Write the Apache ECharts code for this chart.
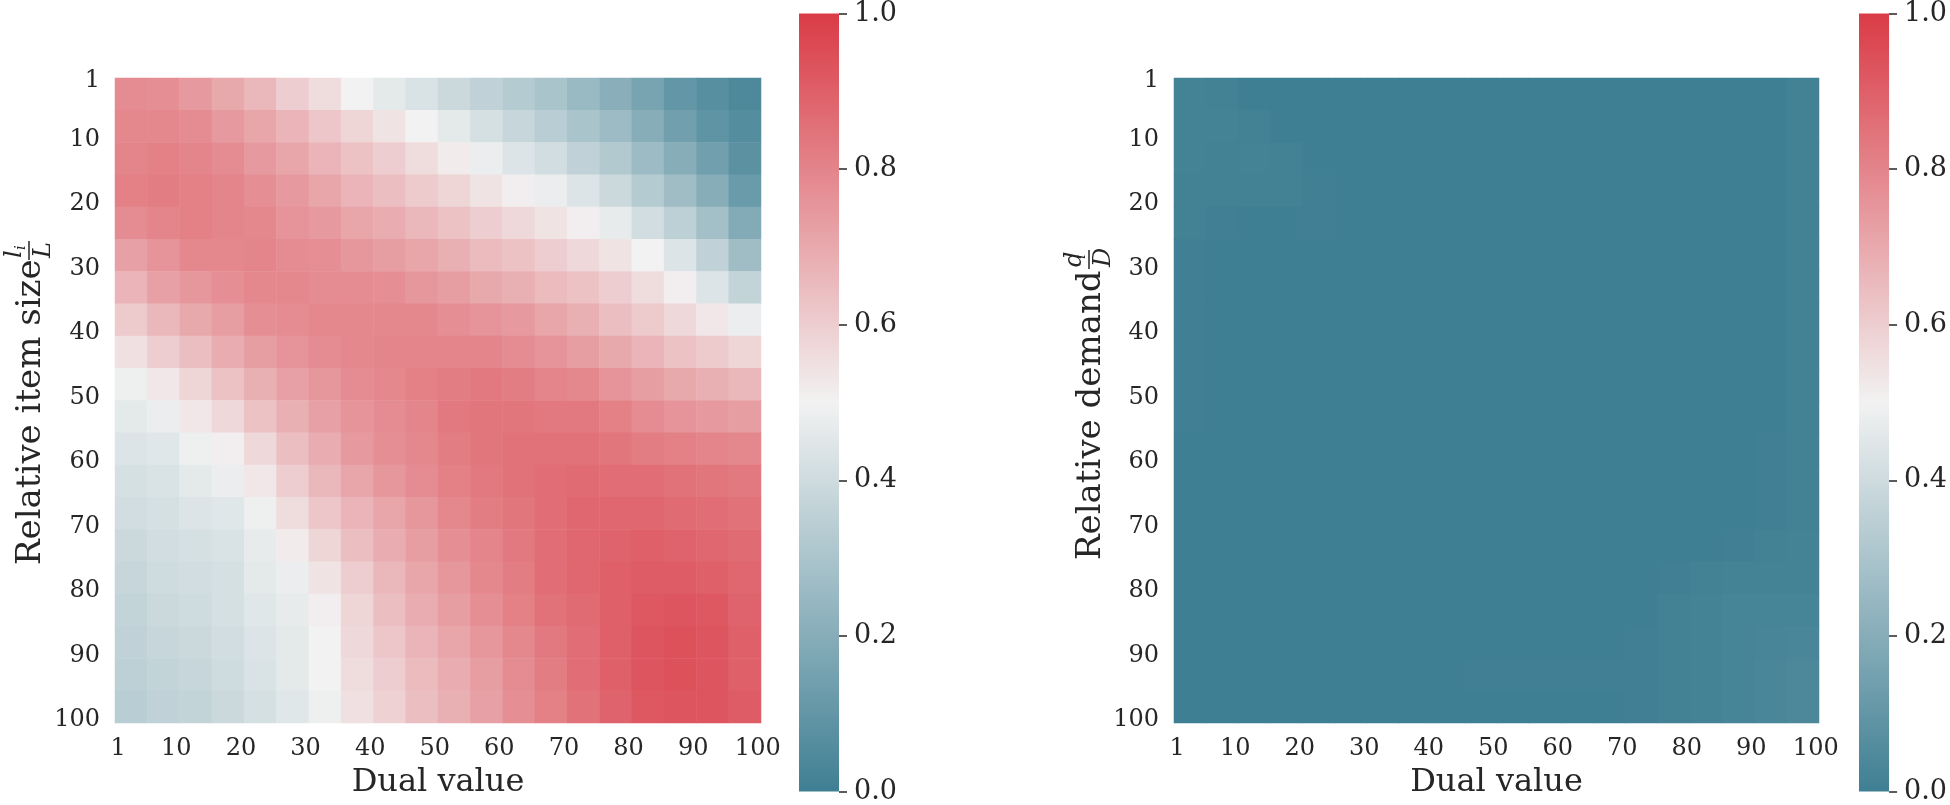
<!DOCTYPE html>
<html>
<head>
<meta charset="utf-8">
<title>Dual value heatmaps</title>
<script src="https://cdn.jsdelivr.net/npm/echarts@6/dist/echarts.min.js"></script>
<style>
  html, body { margin: 0; padding: 0; background: #fff; }
  #chart { width: 1950px; height: 805px; }
</style>
</head>
<body>
<div id="chart"></div>
<script>
// axis categories (1..100) and the labels that are actually shown
const categories = Array.from({ length: 100 }, (_, i) => String(i + 1));
const tickLabels = ['1', '10', '20', '30', '40', '50', '60', '70', '80', '90', '100'];
// cells are read in blocks of 5x5 items
const blockCats = Array.from({ length: 20 }, (_, i) => String(i));
const cbTicks = ['0.0', '0.2', '0.4', '0.6', '0.8', '1.0'];

// left panel: relative item size (rows) vs dual value (cols)
const itemSizeGrid = [
  [.78,.77,.74,.70,.66,.60,.56,.50,.46,.43,.39,.36,.33,.30,.25,.21,.16,.10,.07,.04],
  [.79,.79,.78,.74,.71,.67,.62,.58,.54,.50,.46,.42,.38,.34,.30,.26,.20,.14,.09,.06],
  [.80,.81,.80,.78,.74,.71,.67,.63,.60,.56,.52,.48,.44,.41,.36,.32,.26,.20,.14,.08],
  [.81,.82,.81,.80,.77,.74,.71,.67,.64,.61,.58,.54,.51,.48,.44,.39,.33,.27,.20,.12],
  [.78,.80,.81,.80,.79,.76,.74,.71,.69,.66,.63,.60,.57,.54,.51,.47,.41,.35,.28,.19],
  [.72,.76,.79,.79,.80,.78,.77,.75,.73,.71,.68,.65,.63,.60,.57,.54,.50,.44,.36,.27],
  [.67,.72,.75,.77,.79,.79,.78,.78,.77,.75,.73,.70,.68,.65,.63,.60,.56,.51,.44,.37],
  [.61,.66,.70,.73,.77,.78,.79,.79,.79,.79,.77,.76,.74,.71,.68,.64,.61,.57,.53,.48],
  [.55,.60,.64,.69,.73,.76,.78,.79,.80,.80,.80,.80,.78,.76,.73,.70,.67,.63,.61,.58],
  [.49,.53,.58,.63,.68,.72,.75,.78,.79,.81,.82,.83,.82,.80,.79,.76,.73,.70,.68,.66],
  [.46,.48,.53,.57,.63,.68,.72,.76,.78,.80,.83,.84,.84,.83,.83,.81,.78,.76,.74,.73],
  [.44,.45,.49,.51,.57,.64,.69,.74,.77,.79,.82,.84,.85,.85,.85,.84,.82,.81,.80,.79],
  [.42,.43,.46,.48,.53,.60,.66,.71,.75,.78,.81,.83,.85,.86,.87,.86,.86,.85,.84,.83],
  [.41,.42,.44,.45,.49,.56,.62,.67,.71,.75,.79,.82,.84,.86,.88,.88,.88,.87,.86,.85],
  [.39,.41,.42,.43,.47,.52,.58,.64,.69,.73,.77,.80,.83,.86,.88,.89,.90,.89,.88,.87],
  [.38,.40,.41,.42,.46,.48,.54,.60,.66,.71,.75,.79,.82,.86,.88,.90,.91,.91,.90,.88],
  [.37,.39,.40,.42,.45,.47,.51,.58,.64,.69,.73,.77,.81,.85,.87,.90,.92,.93,.92,.89],
  [.36,.38,.39,.41,.44,.46,.50,.57,.62,.67,.71,.75,.79,.83,.86,.90,.93,.94,.93,.90],
  [.35,.37,.38,.40,.43,.46,.50,.56,.60,.65,.69,.73,.78,.82,.86,.90,.93,.94,.93,.90],
  [.34,.36,.37,.39,.42,.45,.49,.55,.59,.64,.68,.72,.77,.81,.85,.89,.92,.93,.93,.91]
];

// right panel: relative demand (rows) vs dual value (cols), almost all zero
const demandGrid = [
  [.015,.01,0,0,0,0,0,0,0,0,0,0,0,0,0,0,0,0,0,.01],
  [.015,.015,.01,0,0,0,0,0,0,0,0,0,0,0,0,0,0,0,0,.01],
  [.015,.01,.015,.01,0,0,0,0,0,0,0,0,0,0,0,0,0,0,0,.01],
  [.01,.01,.01,.01,.005,0,0,0,0,0,0,0,0,0,0,0,0,0,0,.01],
  [.01,.005,0,0,.005,0,0,0,0,0,0,0,0,0,0,0,0,0,0,.01],
  [.005,0,0,0,0,0,0,0,0,0,0,0,0,0,0,0,0,0,0,.01],
  [.005,0,0,0,0,0,0,0,0,0,0,0,0,0,0,0,0,0,0,.01],
  [.005,0,0,0,0,0,0,0,0,0,0,0,0,0,0,0,0,0,0,.01],
  [.005,0,0,0,0,0,0,0,0,0,0,0,0,0,0,0,0,0,0,.01],
  [.005,0,0,0,0,0,0,0,0,0,0,0,0,0,0,0,0,0,0,.01],
  [.005,0,0,0,0,0,0,0,0,0,0,0,0,0,0,0,0,0,0,.01],
  [0,0,0,0,0,0,0,0,0,0,0,0,0,0,0,0,0,0,.005,.01],
  [0,0,0,0,0,0,0,0,0,0,0,0,0,0,0,0,0,0,.005,.01],
  [0,0,0,0,0,0,0,0,0,0,0,0,0,0,0,0,0,0,.005,.01],
  [0,0,0,0,0,0,0,0,0,0,0,0,0,0,0,0,0,.005,.01,.015],
  [0,0,0,0,0,0,0,0,0,0,0,0,0,0,0,.005,.01,.015,.015,.015],
  [0,0,0,0,0,0,0,0,0,0,0,0,0,0,0,.01,.015,.02,.02,.02],
  [0,0,0,0,0,0,0,0,0,0,0,0,0,0,.005,.01,.015,.02,.025,.03],
  [0,0,0,0,0,0,0,0,0,.005,.005,.005,.005,.005,.005,.01,.015,.02,.03,.035],
  [0,0,0,0,0,0,0,0,0,0,0,0,0,0,.005,.01,.015,.02,.03,.035]
];

const textColor = '#262626';
const cmap = ['#3f7f93', '#f2f2f2', '#da3b46'];

function toCells(grid) {
  const out = [];
  grid.forEach((row, r) => row.forEach((v, c) => out.push([c, r, v])));
  return out;
}

function showTick(index, value) {
  return tickLabels.includes(value);
}

// hidden block axes carry the cells, labelled axes carry the 1..100 ticks
function heatAxes(grid, nameText) {
  const x = [
    { gridIndex: grid, type: 'category', data: blockCats, show: false, position: 'top' },
    {
      gridIndex: grid, type: 'category', data: categories, position: 'bottom',
      axisLine: { show: false }, axisTick: { show: false }, splitLine: { show: false },
      axisLabel: { interval: showTick, margin: 14, fontFamily: 'DejaVu Serif', fontSize: 24, color: textColor },
      name: nameText, nameLocation: 'middle', nameGap: 44,
      nameTextStyle: { fontFamily: 'DejaVu Serif', fontSize: 32, color: textColor }
    }
  ];
  const y = [
    { gridIndex: grid, type: 'category', data: blockCats, show: false, inverse: true, position: 'right' },
    {
      gridIndex: grid, type: 'category', data: categories, inverse: true, position: 'left',
      axisLine: { show: false }, axisTick: { show: false }, splitLine: { show: false },
      axisLabel: { interval: showTick, margin: 15, fontFamily: 'DejaVu Serif', fontSize: 24, color: textColor }
    }
  ];
  return { x, y };
}

function colorbarAxes(grid) {
  return {
    x: { gridIndex: grid, type: 'category', data: [''], show: false },
    y: {
      gridIndex: grid, type: 'value', min: 0, max: 1, interval: 0.2, position: 'right',
      axisLine: { show: false },
      axisTick: { show: true, length: 8, lineStyle: { color: textColor, width: 1.5 } },
      splitLine: { show: false },
      axisLabel: {
        margin: 15, fontFamily: 'DejaVu Serif', fontSize: 27, color: textColor,
        formatter: v => cbTicks[Math.round(v / 0.2)]
      }
    }
  };
}

function colorbarGrid(left) {
  return {
    left: left, top: 8, width: 40, height: 788, show: true, borderWidth: 0,
    backgroundColor: new echarts.graphic.LinearGradient(0, 1, 0, 0, [
      { offset: 0, color: cmap[0] },
      { offset: 0.5, color: cmap[1] },
      { offset: 1, color: cmap[2] }
    ])
  };
}

// rotated y label with a stacked fraction at its end
function yLabel(x0, y0, mainText, len, num, den) {
  const t = (text, x, y, size, italic) => ({
    type: 'text', x: x, y: y, silent: true,
    style: {
      text: text, fontSize: size, fontFamily: 'DejaVu Serif', fontStyle: italic ? 'italic' : 'normal',
      fill: textColor, align: 'left', verticalAlign: 'middle'
    }
  });
  return {
    type: 'group', x: x0, y: y0, rotation: Math.PI / 2,
    children: [
      t(mainText, 0, -10, 34, false),
      t(num, len + 3, -26, 24, true),
      t('i', len + 11, -20, 15, true),
      { type: 'line', silent: true, shape: { x1: len + 1, y1: -12, x2: len + 20, y2: -12 }, style: { stroke: textColor, lineWidth: 1.5 } },
      t(den, len + 3, 3, 24, true)
    ]
  };
}

const leftAx = heatAxes(0, 'Dual value');
const leftCb = colorbarAxes(1);
const rightAx = heatAxes(2, 'Dual value');
const rightCb = colorbarAxes(3);

const chart = echarts.init(document.getElementById('chart'));
chart.setOption({
  animation: false,
  backgroundColor: '#fff',
  grid: [
    { left: 115, top: 78, width: 646, height: 645 },
    colorbarGrid(799),
    { left: 1174, top: 78, width: 645, height: 645, show: true, borderWidth: 0, backgroundColor: cmap[0] },
    colorbarGrid(1859)
  ],
  xAxis: [leftAx.x[0], leftAx.x[1], leftCb.x, rightAx.x[0], rightAx.x[1], rightCb.x],
  yAxis: [leftAx.y[0], leftAx.y[1], leftCb.y, rightAx.y[0], rightAx.y[1], rightCb.y],
  visualMap: {
    type: 'continuous', show: false, min: 0, max: 1, seriesIndex: [0, 1],
    inRange: { color: cmap }
  },
  series: [
    {
      type: 'heatmap', xAxisIndex: 0, yAxisIndex: 0, data: toCells(itemSizeGrid),
      silent: true, emphasis: { disabled: true }, progressive: 0
    },
    {
      type: 'heatmap', xAxisIndex: 3, yAxisIndex: 3, data: toCells(demandGrid),
      silent: true, emphasis: { disabled: true }, progressive: 0
    }
  ],
  graphic: [
    yLabel(41, 565, 'Relative item size', 304, 'l', 'L'),
    yLabel(1101, 560, 'Relative demand', 290, 'd', 'D')
  ]
});
</script>
</body>
</html>
